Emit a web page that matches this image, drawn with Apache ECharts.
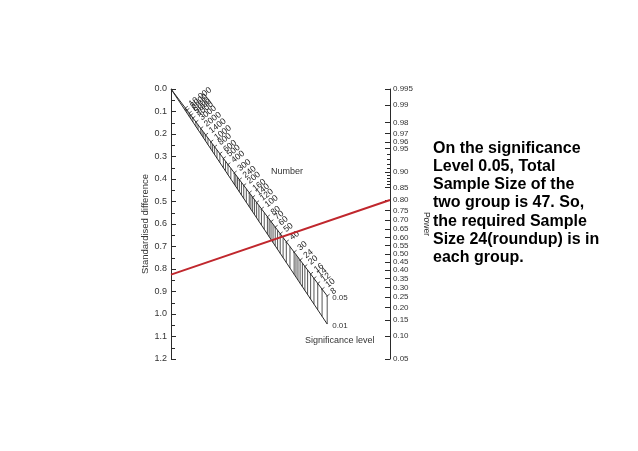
<!DOCTYPE html>
<html>
<head>
<meta charset="utf-8">
<script src="https://cdn.jsdelivr.net/npm/echarts@6/dist/echarts.min.js"></script>
<style>
html,body{margin:0;padding:0;background:#fff;}
#chart{width:638px;height:451px;}
</style>
</head>
<body>
<div id="chart"></div>
<script>
// ---------- data ----------
const powerTicks = [0.995, 0.99, 0.98, 0.97, 0.96, 0.95, 0.90, 0.85, 0.80, 0.75, 0.70, 0.65, 0.60, 0.55, 0.50, 0.45, 0.40, 0.35, 0.30, 0.25, 0.20, 0.15, 0.10, 0.05];
const powerTickLabels = ['0.995','0.99','0.98','0.97','0.96','0.95','0.90','0.85','0.80','0.75','0.70','0.65','0.60','0.55','0.50','0.45','0.40','0.35','0.30','0.25','0.20','0.15','0.10','0.05'];
const powerMinorTicks = [0.94, 0.93, 0.92, 0.91, 0.89, 0.88, 0.87, 0.86];
const numberLabels = [10000, 8000, 6000, 5000, 4000, 3000, 2000, 1400, 1000, 800, 600, 500, 400, 300, 240, 200, 160, 140, 120, 100, 80, 70, 60, 50, 40, 30, 24, 20, 16, 14, 12, 10, 8];
const numberHatch = [8, 10, 12, 14, 16, 18, 20, 22, 24, 26, 28, 30, 35, 40, 45, 50, 55, 60, 65, 70, 75, 80, 90, 100, 110, 120, 130, 140, 150, 160, 180, 200, 220, 240, 260, 280, 300, 350, 400, 450, 500, 600, 700, 800, 900, 1000, 1200, 1400, 1600, 1800, 2000, 2500, 3000, 4000, 5000, 6000, 8000, 10000];
const significanceLevels = [0.05, 0.01];
const significanceLabels = ['0.05', '0.01'];
const exampleDifference = 0.825;   // red line: standardised difference
const examplePower = 0.80;         // red line: power
const noteText = 'On the significance\nLevel 0.05, Total\nSample Size of the\ntwo group is 47. So,\nthe required Sample\nSize 24(roundup) is in\neach group.';

// ---------- scales ----------
function probit(p){
  const a=[-3.969683028665376e+01,2.209460984245205e+02,-2.759285104469687e+02,1.383577518672690e+02,-3.066479806614716e+01,2.506628277459239e+00];
  const b=[-5.447609879822406e+01,1.615858368580409e+02,-1.556989798598866e+02,6.680131188771972e+01,-1.328068155288572e+01];
  const c=[-7.784894002430293e-03,-3.223964580411365e-01,-2.400758277161838e+00,-2.549671088660280e+00,4.374664141464968e+00,2.938163982698783e+00];
  const d=[7.784695709041462e-03,3.224671290700398e-01,2.445134137142996e+00,3.754408661907416e+00];
  const pl=0.02425, ph=1-pl; let q,r;
  if(p<pl){q=Math.sqrt(-2*Math.log(p));return (((((c[0]*q+c[1])*q+c[2])*q+c[3])*q+c[4])*q+c[5])/((((d[0]*q+d[1])*q+d[2])*q+d[3])*q+1);}
  if(p<=ph){q=p-0.5;r=q*q;return (((((a[0]*r+a[1])*r+a[2])*r+a[3])*r+a[4])*r+a[5])*q/(((((b[0]*r+b[1])*r+b[2])*r+b[3])*r+b[4])*r+1);}
  q=Math.sqrt(-2*Math.log(1-p));return -(((((c[0]*q+c[1])*q+c[2])*q+c[3])*q+c[4])*q+c[5])/((((d[0]*q+d[1])*q+d[2])*q+d[3])*q+1);
}
const D_MAX = 1.2;
const Z_MAX = probit(0.995), Z_MIN = probit(0.05);
const S = D_MAX / (Z_MAX - Z_MIN);            // left-axis units per probit unit
function powerToD(p){ return S * (Z_MAX - probit(p)); }
function nT(N){ return 1 / (1 + S * Math.sqrt(N) / 2); }
function nY(N, alpha){ return nT(N) * S * (Z_MAX + probit(1 - alpha / 2)); }
const N_END = numberLabels[numberLabels.length - 1];

const LINE = '#2a2a2a';
const FONT = '"Liberation Sans", Arial, sans-serif';

const chart = echarts.init(document.getElementById('chart'), null, {renderer: 'canvas'});

const option = {
  animation: false,
  backgroundColor: '#fff',
  grid: {left: 171, right: 248, top: 89, bottom: 92, containLabel: false},
  xAxis: {type: 'value', min: 0, max: 1, show: false},
  yAxis: [
    {
      type: 'value', min: 0, max: D_MAX, interval: 0.1, inverse: true, position: 'left',
      axisLine: {show: true, lineStyle: {color: LINE, width: 1}},
      axisTick: {show: true, inside: true, length: 5, lineStyle: {color: LINE}},
      minorTick: {show: true, splitNumber: 2, length: 4, lineStyle: {color: LINE}},
      axisLabel: {formatter: v => v.toFixed(1), fontSize: 9, color: '#333', margin: 4, fontFamily: FONT},
      splitLine: {show: false},
      name: 'Standardised difference', nameLocation: 'middle', nameRotate: 90, nameGap: 21,
      nameTextStyle: {fontSize: 9.5, color: '#333', fontFamily: FONT}
    },
    {
      type: 'value', min: Z_MIN, max: Z_MAX, position: 'right',
      axisLine: {show: true, lineStyle: {color: LINE, width: 1}},
      axisTick: {show: true, inside: true, length: 5, lineStyle: {color: LINE}, customValues: powerTicks.map(probit)},
      axisLabel: {
        show: true, fontSize: 8, color: '#333', margin: 3, fontFamily: FONT,
        customValues: powerTicks.map(probit),
        formatter: v => {
          let best = 0, bd = Infinity;
          powerTicks.forEach((p, i) => { const dd = Math.abs(probit(p) - v); if (dd < bd) { bd = dd; best = i; } });
          return powerTickLabels[best];
        }
      },
      splitLine: {show: false},
      name: 'Power', nameLocation: 'middle', nameRotate: -90, nameGap: 32,
      nameTextStyle: {fontSize: 8.5, color: '#333', fontFamily: FONT}
    },
    {
      type: 'value', min: Z_MIN, max: Z_MAX, position: 'right',
      axisLine: {show: false},
      axisTick: {show: true, inside: true, length: 3, lineStyle: {color: LINE}, customValues: powerMinorTicks.map(probit)},
      axisLabel: {show: false},
      splitLine: {show: false}
    }
  ],
  series: [
    // band boundary lines (alpha = 0.05 upper, 0.01 lower)
    {
      type: 'line', yAxisIndex: 0, symbol: 'none', silent: true,
      data: [[0, 0], [nT(N_END), nY(N_END, significanceLevels[0])]],
      lineStyle: {color: LINE, width: 1}
    },
    {
      type: 'line', yAxisIndex: 0, symbol: 'none', silent: true,
      data: [[0, 0], [nT(N_END), nY(N_END, significanceLevels[1])]],
      lineStyle: {color: LINE, width: 1}
    },
    // hatch lines of the number scale
    {
      type: 'custom', yAxisIndex: 0, silent: true,
      data: numberHatch.map(n => [n]),
      renderItem: (params, api) => {
        const N = api.value(0);
        const t = nT(N);
        const p1 = api.coord([t, nY(N, significanceLevels[0])]);
        const p2 = api.coord([t, nY(N, significanceLevels[1])]);
        return {type: 'line', shape: {x1: p1[0], y1: p1[1], x2: p2[0], y2: p2[1]}, style: {stroke: LINE, lineWidth: 0.8}};
      }
    },
    // labelled ticks of the number scale
    {
      type: 'custom', yAxisIndex: 0, silent: true,
      data: numberLabels.map(n => [n]),
      renderItem: (params, api) => {
        const N = api.value(0);
        const t = nT(N);
        const o = api.coord([0, 0]);
        const p = api.coord([t, nY(N, significanceLevels[0])]);
        const dx = p[0] - o[0], dy = p[1] - o[1];
        const len = Math.sqrt(dx * dx + dy * dy);
        const ux = dx / len, uy = dy / len;
        const px = uy, py = -ux; // perpendicular, up-right
        const rot = Math.atan2(-py, px);
        const txt = N >= 10000 ? '10 000' : String(N);
        return {
          type: 'group',
          children: [
            {type: 'line', shape: {x1: p[0] - 1 * px, y1: p[1] - 1 * py, x2: p[0] + 3 * px, y2: p[1] + 3 * py}, style: {stroke: LINE, lineWidth: 0.8}},
            {type: 'text', x: p[0] + 5.5 * px, y: p[1] + 5.5 * py, rotation: rot,
             style: {text: txt, x: 0, y: 0, align: 'left', verticalAlign: 'middle', fill: '#222', font: '8.5px ' + FONT}}
          ]
        };
      }
    },
    // significance level labels at the end of the band
    {
      type: 'custom', yAxisIndex: 0, silent: true,
      data: significanceLevels.map((a, i) => [a, i]),
      renderItem: (params, api) => {
        const a = api.value(0), i = api.value(1);
        const p = api.coord([nT(N_END), nY(N_END, a)]);
        return {type: 'text', x: p[0] + 5, y: p[1] + 2,
          style: {text: significanceLabels[i], align: 'left', verticalAlign: 'middle', fill: '#333', font: '8px ' + FONT}};
      }
    },
    // example line
    {
      type: 'line', yAxisIndex: 0, symbol: 'none', silent: true, z: 5,
      data: [[0, exampleDifference], [1, powerToD(examplePower)]],
      lineStyle: {color: '#c0272d', width: 2}
    }
  ],
  graphic: [
    {type: 'text', left: 271, top: 167, style: {text: 'Number', fill: '#333', font: '9px ' + FONT}},
    {type: 'text', left: 305, top: 336, style: {text: 'Significance level', fill: '#333', font: '9px ' + FONT}},
    {type: 'text', left: 433, top: 139, style: {text: noteText, fill: '#000', font: 'bold 16px ' + FONT, lineHeight: 18.3}}
  ]
};
chart.setOption(option);
</script>
</body>
</html>
